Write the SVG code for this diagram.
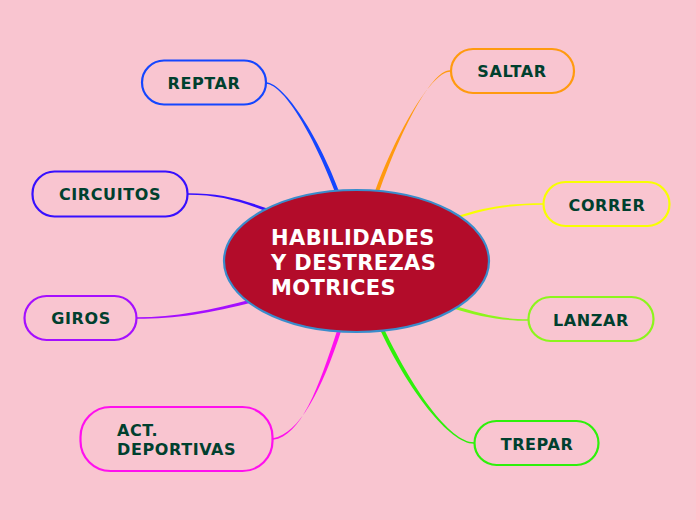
<svg xmlns="http://www.w3.org/2000/svg" width="696" height="520" viewBox="0 0 696 520">
<style>
.node rect{fill:none;stroke-width:2.2}
.lbl{font-family:"DejaVu Sans","Liberation Sans",sans-serif;font-weight:bold;font-size:16px;letter-spacing:0.6px;fill:#00402E;text-anchor:middle}
.ctr{font-family:"DejaVu Sans","Liberation Sans",sans-serif;font-weight:bold;font-size:21px;letter-spacing:0.4px;fill:#FFFFFF}
</style>
<rect width="696" height="520" fill="#F9C5D0"/>
<g id="connectors">
<path fill="#1446FF" d="M266,82.2 C285,83.2 320,139.3 339.9,193.3 L336.1,194.7 C316,140.7 285,84.8 266,83.8 Z"/>
<path fill="#FF9A0F" d="M450,70.2 C430,70.2 397,139.3 377.9,195.7 L374.1,194.3 C393,140.7 430,71.8 450,71.8 Z"/>
<path fill="#F8FF00" d="M543,203.2 C510,203.2 485,206.6 455.5,216.6 L454.5,219.4 C485,209.4 510,204.8 543,204.8 Z"/>
<path fill="#8CF51C" d="M528,319.2 C500,319.2 480,313.6 450.4,304.6 L449.6,307.4 C480,316.4 500,320.8 528,320.8 Z"/>
<path fill="#2EF00A" d="M474,442.2 C450,442.2 412,389 381.8,324.2 L378.2,325.8 C408,391 450,443.8 474,443.8 Z"/>
<path fill="#FF10EE" d="M273,438.2 C299,434.2 321.9,390.6 341.9,328.6 L338.1,327.4 C318,389.4 301,435.8 273,439.8 Z"/>
<path fill="#A50FFF" d="M137,317.2 C175,317.2 210,310.5 254.6,298.5 L255.4,301.5 C210,313.5 175,318.8 137,318.8 Z"/>
<path fill="#3710FF" d="M188,193.2 C220,193.2 240,198.6 270.5,209.6 L269.5,212.4 C240,201.4 220,194.8 188,194.8 Z"/>
</g>
<g id="center">
<ellipse cx="356.5" cy="261" rx="132.5" ry="71" fill="#B30C2A" stroke="#3A8CCB" stroke-width="2.2"/>
<text class="ctr" x="271" y="245">HABILIDADES</text>
<text class="ctr" x="271" y="270">Y DESTREZAS</text>
<text class="ctr" x="271" y="295">MOTRICES</text>
</g>
<g id="reptar" class="node">
<rect x="142" y="60.5" width="124" height="44" rx="22" stroke="#1446FF"/>
<text class="lbl" x="204" y="89">REPTAR</text>
</g>
<g id="saltar" class="node">
<rect x="451" y="49" width="123" height="44" rx="22" stroke="#FF9A0F"/>
<text class="lbl" x="512" y="77">SALTAR</text>
</g>
<g id="correr" class="node">
<rect x="543.5" y="182" width="126" height="44" rx="22" stroke="#F8FF00"/>
<text class="lbl" x="607" y="211">CORRER</text>
</g>
<g id="lanzar" class="node">
<rect x="528.5" y="297" width="125" height="44" rx="22" stroke="#8CF51C"/>
<text class="lbl" x="591" y="326">LANZAR</text>
</g>
<g id="trepar" class="node">
<rect x="474.5" y="421" width="124" height="44" rx="22" stroke="#2EF00A"/>
<text class="lbl" x="537" y="450">TREPAR</text>
</g>
<g id="act" class="node">
<rect x="80.5" y="407" width="192" height="64" rx="30" stroke="#FF10EE"/>
<text class="lbl" x="117" y="436" style="text-anchor:start">ACT.</text>
<text class="lbl" x="117" y="455" style="text-anchor:start">DEPORTIVAS</text>
</g>
<g id="giros" class="node">
<rect x="24.5" y="296" width="112" height="44" rx="22" stroke="#A50FFF"/>
<text class="lbl" x="81" y="324">GIROS</text>
</g>
<g id="circuitos" class="node">
<rect x="32.5" y="171.5" width="155" height="45" rx="22" stroke="#3710FF"/>
<text class="lbl" x="110" y="200">CIRCUITOS</text>
</g>
</svg>
